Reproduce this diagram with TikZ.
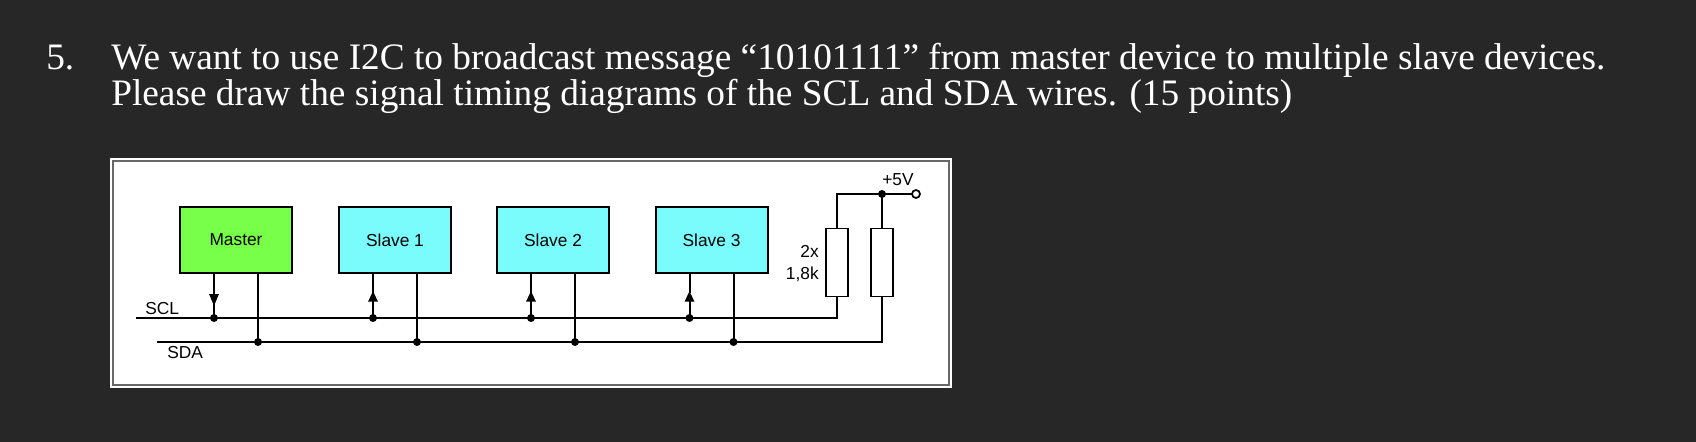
\documentclass[tikz,border=0pt]{standalone}
\usepackage{fontspec}
\setmainfont{Liberation Serif}
\newfontfamily\diag{Liberation Sans}
\usetikzlibrary{arrows.meta}
\definecolor{bg}{HTML}{272727}
\definecolor{mgreen}{HTML}{77FF4A}
\definecolor{scyan}{HTML}{7AFCFC}
\begin{document}
\begin{tikzpicture}[x=0.75pt,y=-0.75pt,
  dev/.style={draw=black,line width=1.5pt,minimum width=84pt,minimum height=50pt,inner sep=0pt,font=\diag\fontsize{13}{15}\selectfont},
  res/.style={draw=black,fill=white,line width=0.9pt,minimum width=16.5pt,minimum height=51.5pt,inner sep=0pt},
  wire/.style={line width=1.5pt},
  dot/.style={circle,fill=black,inner sep=0pt,minimum size=6pt},
  lbl/.style={font=\diag\fontsize{13}{15}\selectfont,inner sep=0pt},
  ttl/.style={text=white,font=\fontsize{28}{34}\selectfont,inner sep=0pt,anchor=base west}]
\useasboundingbox (0,0) rectangle (1696,442);
\fill[bg] (0,0) rectangle (1696,442);
\node[ttl] (n5) at (46,70) {5.};
\node[ttl] (t1) at (111,70) {We want to use I2C to broadcast message “10101111” from master device to multiple slave devices.};
\node[ttl] (t2) at (111,106) {Please draw the signal timing diagrams of the SCL and SDA wires. (15 points)};
\fill[white] (110,158) rectangle (952,388);
\draw[bg!70,line width=0.8pt] (113,161) rectangle (949,385);
\node[dev,fill=mgreen] (m) at (236,240) {Master};
\node[dev,fill=scyan] (s1) at (395,240) {Slave 1};
\node[dev,fill=scyan] (s2) at (553,240) {Slave 2};
\node[dev,fill=scyan] (s3) at (711.5,240) {Slave 3};
\node[res] (r1) at (837,262.5) {};
\node[res] (r2) at (882,262.5) {};
\coordinate (sclA) at (136,318);
\coordinate (sdaA) at (157,342);
\coordinate (top1) at (837,194);
\coordinate (vdot) at (882,194);
\draw[wire] (sclA) -- (837,318) -- (r1.south);
\draw[wire] (sdaA) -- (882,342) -- (r2.south);
\draw[wire] (r1.north) -- (top1) -- (vdot) -- (913,194);
\draw[wire] (vdot) -- (r2.north);
\node[dot] at (vdot) {};
\node[circle,draw=black,fill=white,line width=1.3pt,inner sep=0pt,minimum size=6pt] (vcc) at (916,194) {};
\node[lbl,anchor=south] (v5) at (898,186) {+5V};
\node[lbl,anchor=east] (rx) at (819,251) {2x};
\node[lbl,anchor=east] (rk) at (819,274) {1,8k};
\node[lbl,anchor=west] (scl) at (145,309) {SCL};
\node[lbl,anchor=west] (sda) at (167,353) {SDA};
\draw[wire,-{Triangle[length=9pt,width=7pt]}] (214,274) -- (214,306);
\draw[wire] (214,304) -- (214,318);
\node[dot] at (214,318) {};
\draw[wire] (258,274) -- (258,342);
\node[dot] at (258,342) {};
\foreach \c in {395,553,711.5}{
  \draw[wire,-{Triangle[length=8pt,width=7pt]}] (\c-22,318) -- (\c-22,291);
  \draw[wire] (\c-22,293) -- (\c-22,274);
  \node[dot] at (\c-22,318) {};
  \draw[wire] (\c+22,274) -- (\c+22,342);
  \node[dot] at (\c+22,342) {};
}
\end{tikzpicture}
\end{document}
